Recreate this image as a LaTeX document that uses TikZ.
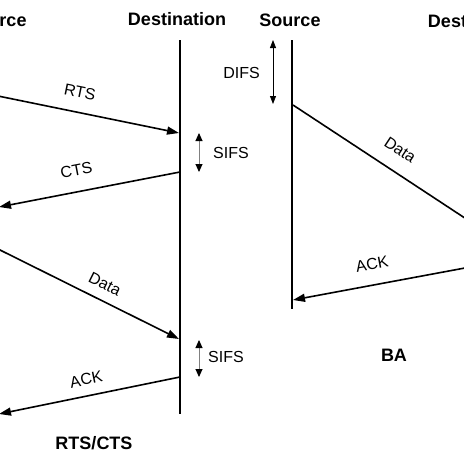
\documentclass[tikz,border=0pt]{standalone}
\usepackage{fontspec}
\setmainfont{Liberation Sans}
\usetikzlibrary{arrows.meta}
\tikzset{
  lifeline/.style={line width=2.6pt},
  msg/.style={line width=1.6pt,-{Triangle[length=12pt,width=8pt]}},
  lbl/.style={font=\fontsize{16}{18}\selectfont,inner sep=0pt,sloped},
  head/.style={font=\bfseries\fontsize{18}{21}\selectfont,inner sep=0pt},
  ifs/.style={line width=0.9pt,gray,{Triangle[length=8pt,width=7pt,color=black]}-{Triangle[length=8pt,width=7pt,color=black]}},
  ifsb/.style={line width=0.8pt,black,{Triangle[length=8pt,width=6pt]}-{Triangle[length=8pt,width=6pt]}},
  ifslbl/.style={font=\fontsize{16}{18}\selectfont,inner sep=0pt,anchor=west}
}
\begin{document}
\begin{tikzpicture}[x=1pt,y=-1pt]
\useasboundingbox (0,0) rectangle (464,464);
\clip (0,0) rectangle (464,464);
% headings
\node[head] (src1) at (-4,20) {Source};
\node[head] (dst1) at (177,19.5) {Destination};
\node[head] (src2) at (290,20.5) {Source};
\node[head] (dst2) at (477,21) {Destination};
\node[head] (t1) at (94,443) {RTS/CTS};
\node[head] (t2) at (394,355) {BA};
% lifelines
\coordinate (s1t) at (-2,40); \coordinate (s1b) at (-2,416);
\coordinate (d1t) at (180,40); \coordinate (d1b) at (180,414);
\coordinate (s2t) at (292,40); \coordinate (s2b) at (292,309);
\coordinate (d2t) at (481,40); \coordinate (d2b) at (481,320);
\draw[lifeline] (s1t) -- (s1b);
\draw[lifeline] (d1t) -- (d1b);
\draw[lifeline] (s2t) -- (s2b);
\draw[lifeline] (d2t) -- (d2b);
% RTS/CTS messages
\coordinate (rtsA) at (-2,96);  \coordinate (rtsB) at (179,133);
\coordinate (ctsA) at (180,172); \coordinate (ctsB) at (-1,207);
\coordinate (datA) at (-2,249); \coordinate (datB) at (179,339);
\coordinate (ackA) at (180,377); \coordinate (ackB) at (-1,414);
\draw[msg] (rtsA) -- node[lbl,pos=0.43,above=14pt] {RTS} (rtsB);
\draw[msg] (ctsA) -- node[lbl,pos=0.55,above=15pt] {CTS} (ctsB);
\draw[msg] (datA) -- node[lbl,pos=0.55,above=10pt] {Data} (datB);
\draw[msg] (ackA) -- node[lbl,pos=0.5,above=10pt] {ACK} (ackB);
% BA messages
\coordinate (bdA) at (293,105); \coordinate (bdB) at (480,228);
\coordinate (baA) at (481,265); \coordinate (baB) at (293,300);
\draw[msg] (bdA) -- node[lbl,pos=0.51,above=15pt] {Data} (bdB);
\draw[msg] (baA) -- node[lbl,pos=0.56,above=14pt] {ACK} (baB);
% interframe spaces
\coordinate (sf1a) at (199,133); \coordinate (sf1b) at (199,172);
\coordinate (sf2a) at (199,340); \coordinate (sf2b) at (199,377);
\coordinate (dfa) at (273,40); \coordinate (dfb) at (273,104);
\draw[ifs] (sf1a) -- (sf1b);
\draw[ifs] (sf2a) -- (sf2b);
\draw[ifsb] (dfa) -- (dfb);
\node[ifslbl] (l1) at (213,153) {SIFS};
\node[ifslbl] (l2) at (208,357) {SIFS};
\node[ifslbl,anchor=east] (l3) at (260,73) {DIFS};
\end{tikzpicture}
\end{document}
